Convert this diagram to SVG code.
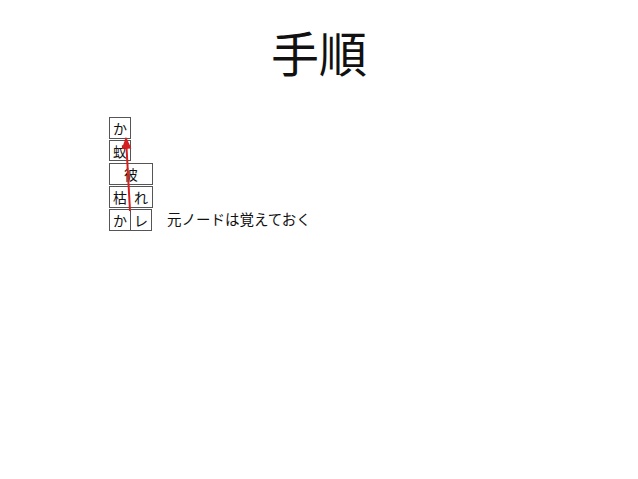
<svg xmlns="http://www.w3.org/2000/svg" width="638" height="479" viewBox="0 0 638 479">
<style>
text{font-family:"Noto Sans CJK JP","Noto Sans CJK SC",sans-serif;fill:#111}
.b rect{fill:#fff;stroke:#555;stroke-width:1}
.c{font-size:14px;text-anchor:middle;dominant-baseline:central}
</style>
<defs>
<marker id="ah" viewBox="0 0 10 10" refX="9" refY="5" markerWidth="6" markerHeight="6" orient="auto"><path d="M0,1 L10,5 L0,9 z" fill="#d61f1f"/></marker>
</defs>
<rect width="638" height="479" fill="#fff"/>
<text x="319" y="72" font-size="48" text-anchor="middle">手順</text>
<g id="n1" class="b"><rect x="109.5" y="117.5" width="21" height="21"/><text class="c" x="120" y="128">か</text></g>
<g id="n2" class="b"><rect x="109.5" y="140.5" width="21" height="20"/><text class="c" x="120" y="150.5">蚊</text></g>
<g id="n3" class="b"><rect x="109.5" y="163.5" width="43" height="21"/><text class="c" x="131" y="174">彼</text></g>
<g id="n4" class="b"><rect x="109.5" y="186.5" width="43" height="21"/><text class="c" x="120" y="197">枯</text><text class="c" x="141" y="197">れ</text></g>
<g id="n5" class="b"><rect x="109.5" y="209.5" width="21" height="21"/><text class="c" x="120" y="220">か</text></g>
<g id="n6" class="b"><rect x="130.5" y="209.5" width="21" height="21"/><text class="c" x="141" y="220">レ</text></g>
<g id="connectors"><line x1="130" y1="211" x2="126" y2="138" stroke="#d61f1f" stroke-width="2" marker-end="url(#ah)"/></g>
<text x="167" y="225" font-size="14.5">元ノードは覚えておく</text>
</svg>
